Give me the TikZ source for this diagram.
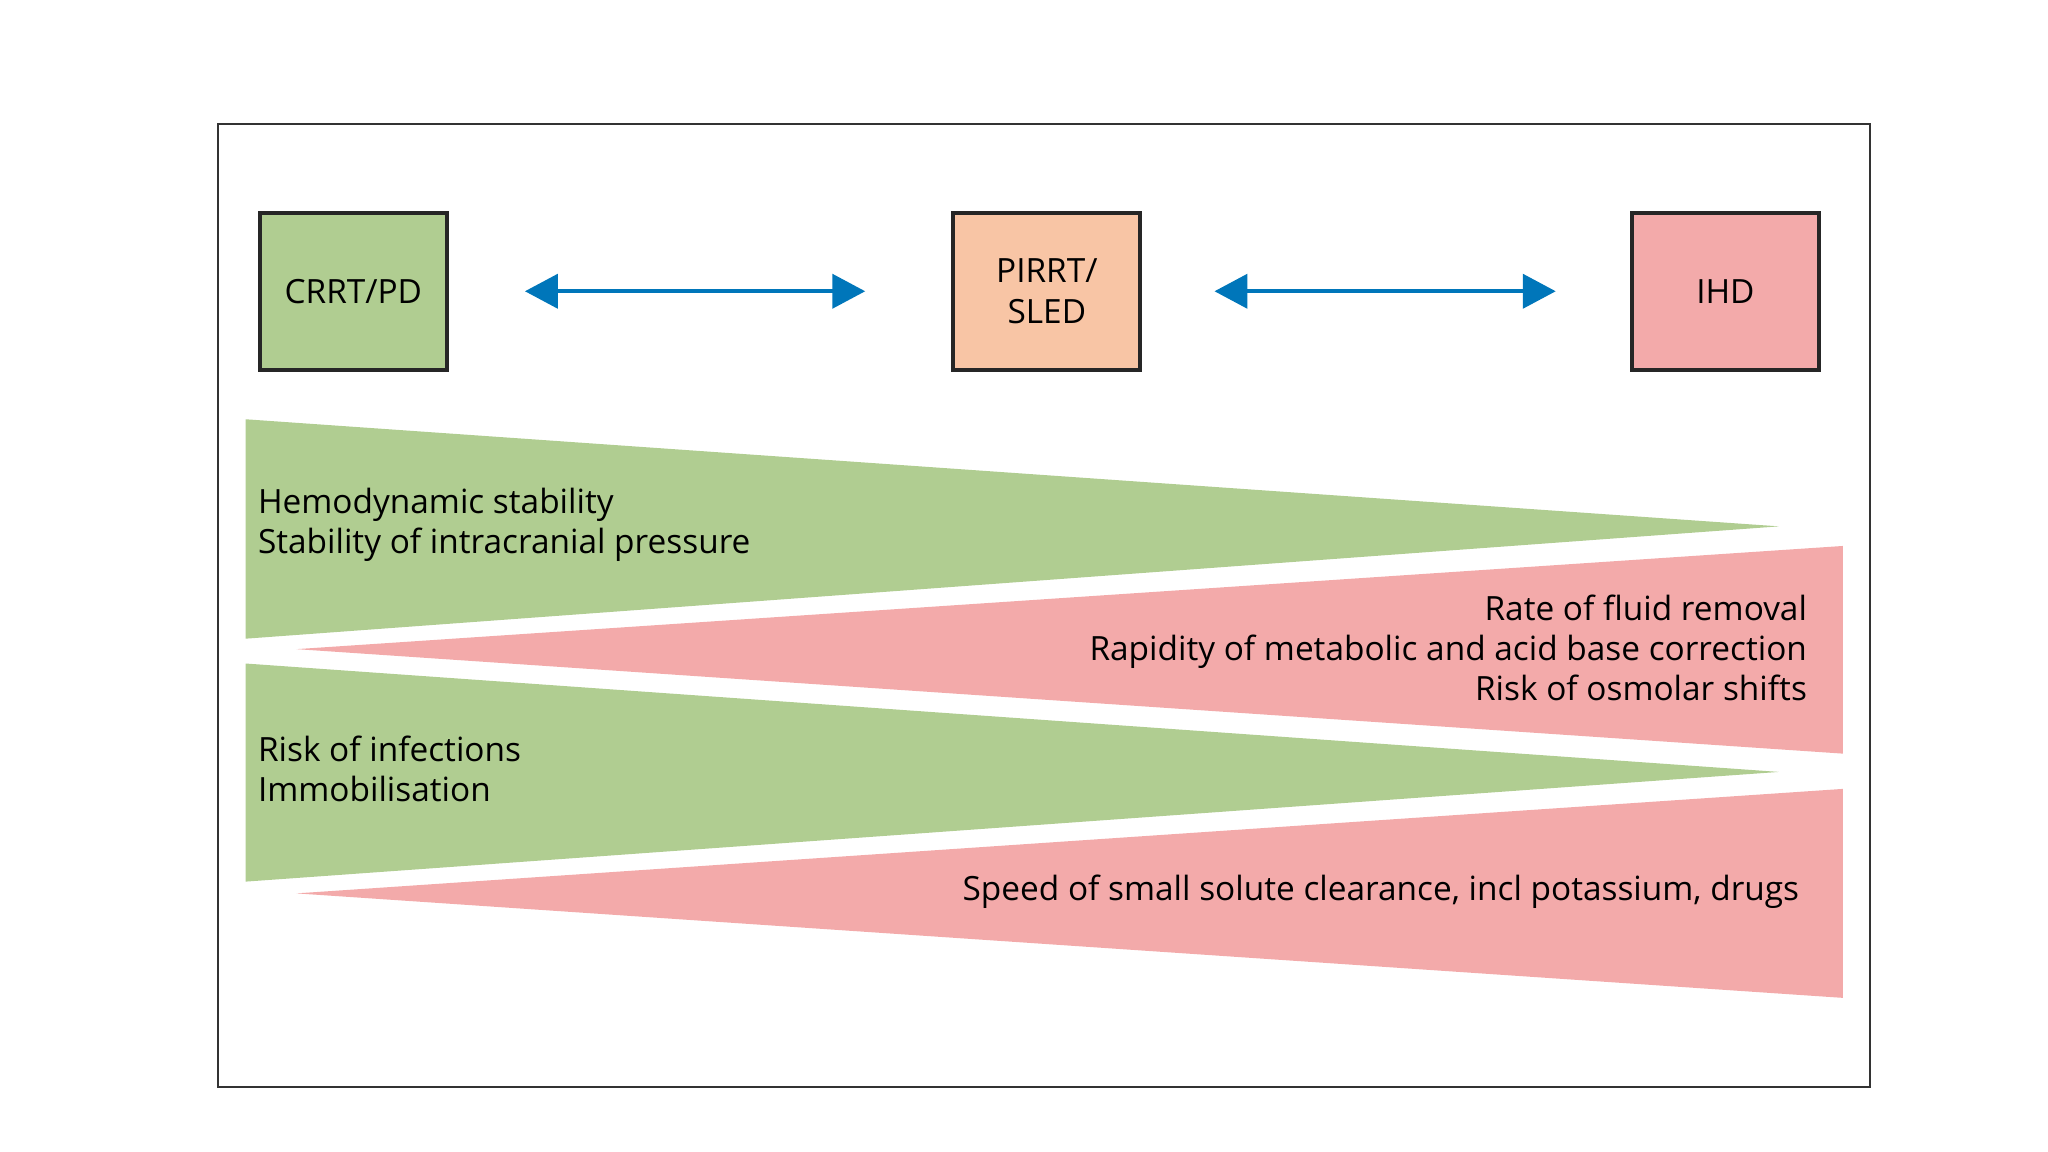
\documentclass[tikz,border=0pt]{standalone}
\usepackage{fontspec}
\setmainfont{Open Sans}
\usetikzlibrary{arrows.meta}
\definecolor{wgreen}{RGB}{176,205,145}
\definecolor{wpeach}{RGB}{248,197,165}
\definecolor{wpink}{RGB}{243,170,170}
\definecolor{wblue}{RGB}{0,118,186}
\tikzset{
  box/.style={draw=black!85, line width=1.2pt, minimum width=1.87cm, minimum height=1.57cm, align=center, font=\fontsize{9.5}{11.5}\selectfont},
  link/.style={wblue, line width=1.2pt, {Triangle[length=0.33cm,width=0.34cm]}-{Triangle[length=0.33cm,width=0.34cm]}},
  lbl/.style={font=\fontsize{9.5}{11.4}\selectfont, inner sep=0pt}
}
\begin{document}
\begin{tikzpicture}[x=0.01306cm,y=-0.01306cm]
\useasboundingbox (0,0) rectangle (1568,882);
\draw [black!80, line width=0.6pt] (167,95) rectangle (1432,832);

% modality boxes
\node [box, fill=wgreen] (crrt) at (270.5,223) {CRRT/PD};
\node [box, fill=wpeach] (pirrt) at (801.5,223) {PIRRT/\\SLED};
\node [box, fill=wpink] (ihd) at (1321,223) {IHD};
\draw [link, shorten <=0.76cm, shorten >=0.86cm] (crrt) -- (pirrt);
\draw [link, shorten <=0.72cm, shorten >=0.74cm] (pirrt) -- (ihd);

% wedges
\fill [wgreen] (188,321) -- (1362,403) -- (188,489) -- cycle;
\fill [wpink] (227,497) -- (1411,418) -- (1411,577) -- cycle;
\fill [wgreen] (188,508) -- (1362,591) -- (188,675) -- cycle;
\fill [wpink] (227,684) -- (1411,604) -- (1411,764) -- cycle;

\node [lbl, anchor=west, align=left] (hemo) at (197,402) {Hemodynamic stability\\Stability of intracranial pressure};
\node [lbl, anchor=east, align=right] (fluid) at (1384,496) {Rate of fluid removal\\Rapidity of metabolic and acid base correction\\Risk of osmolar shifts};
\node [lbl, anchor=west, align=left] (infect) at (197,589) {Risk of infections\\Immobilisation};
\node [lbl, anchor=east] (solute) at (1378,683) {Speed of small solute clearance, incl potassium, drugs};
\end{tikzpicture}
\end{document}
